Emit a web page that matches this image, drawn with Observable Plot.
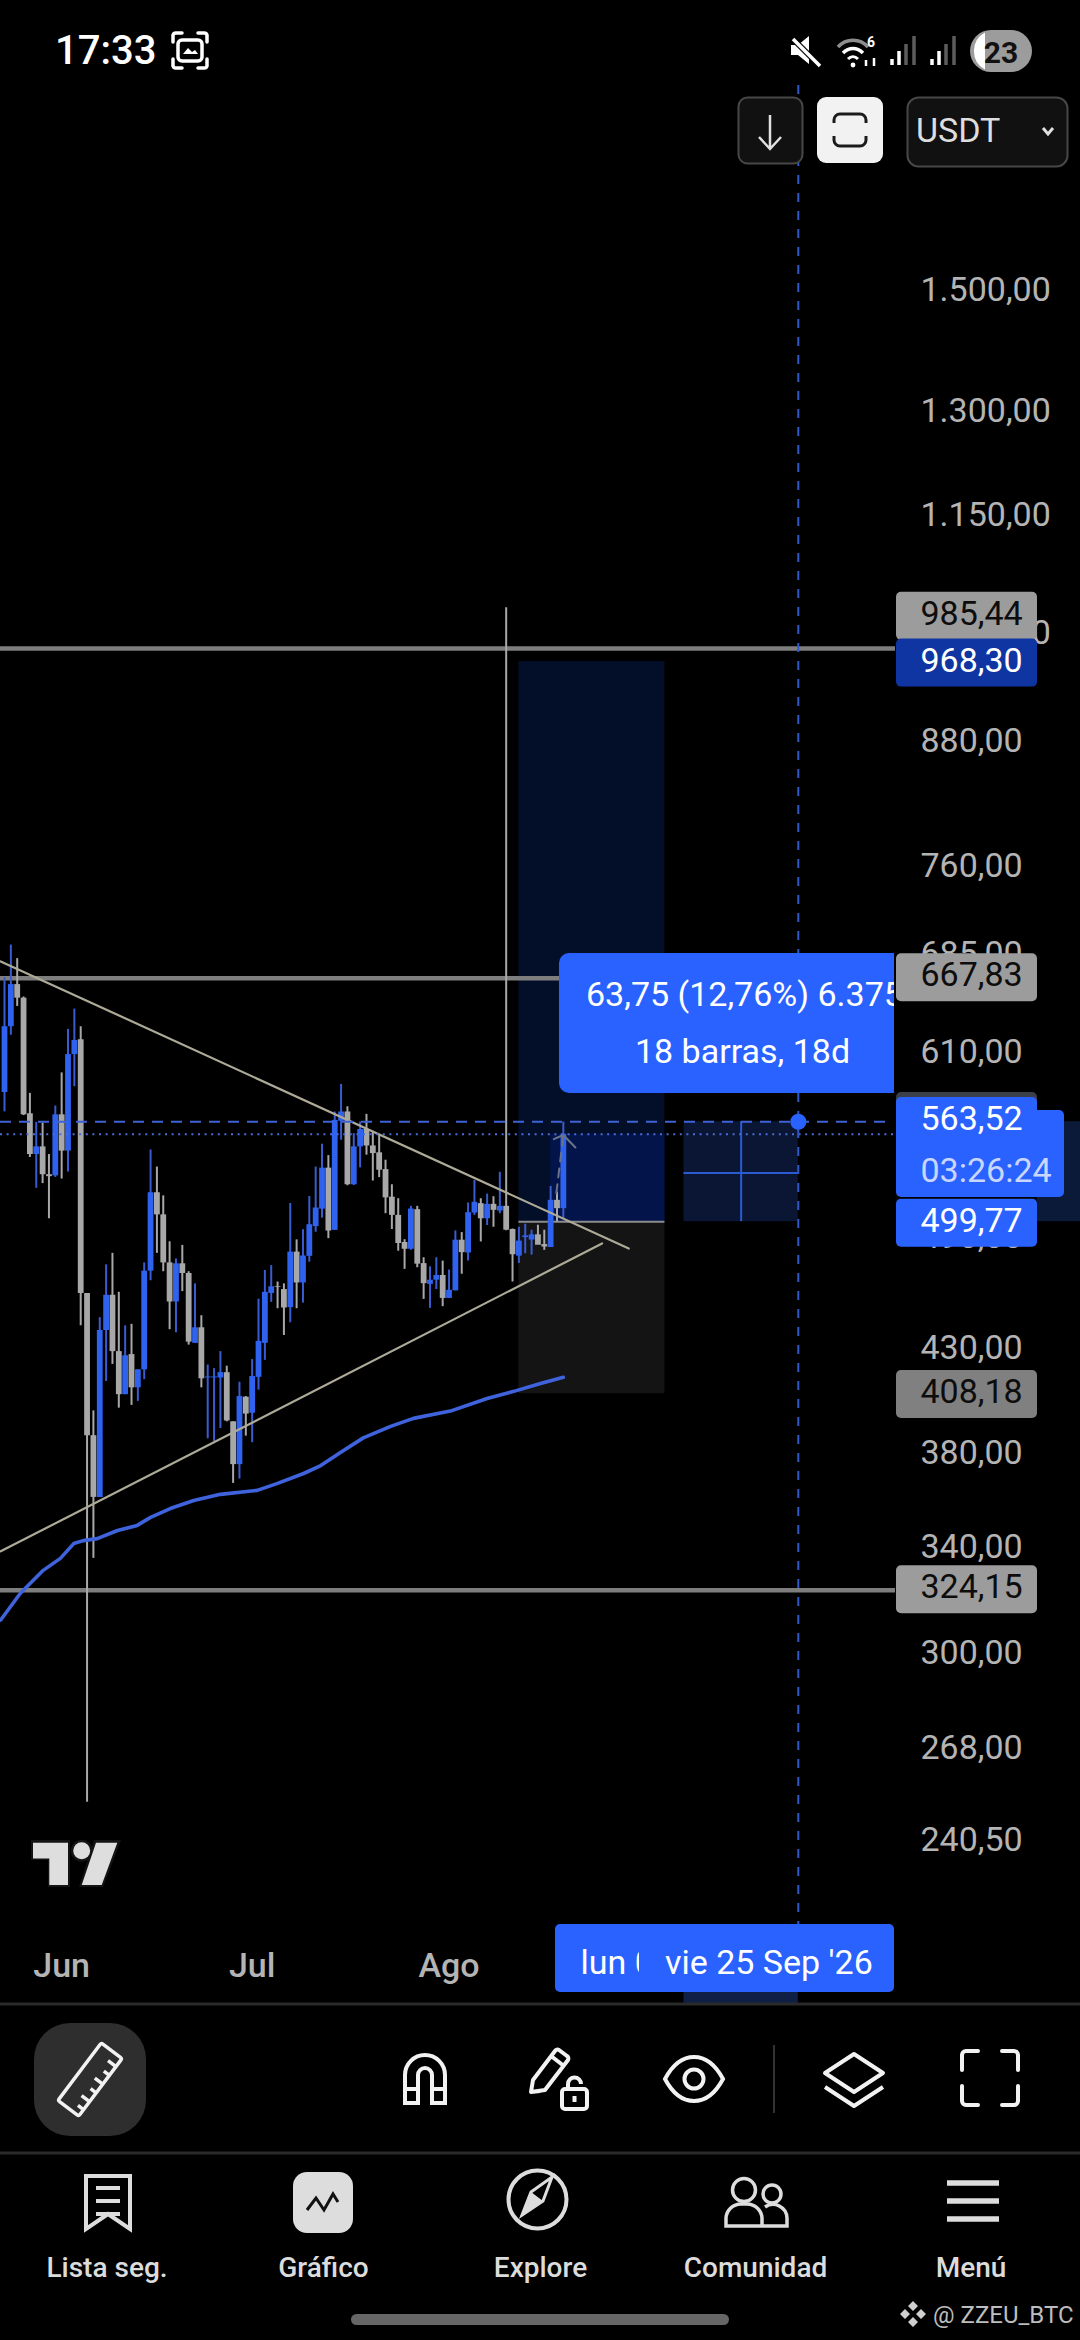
<!DOCTYPE html>
<html lang="es">
<head>
<meta charset="utf-8">
<title>Gráfico USDT</title>
<script src="https://cdn.jsdelivr.net/npm/d3@7"></script>
<script src="https://cdn.jsdelivr.net/npm/@observablehq/plot@0.6"></script>
<style>
html,body{margin:0;padding:0;background:#000;width:1080px;height:2340px;overflow:hidden}
#chart,#chrome{position:absolute;left:0;top:0;width:1080px;height:2340px}
#chart svg{display:block;max-width:none}
#chrome{pointer-events:none}
text{font-family:Roboto,sans-serif}
</style>
</head>
<body>
<div id="chart"></div>
<svg id="chrome" width="1080" height="2340" viewBox="0 0 1080 2340" fill="none">
  <!-- status bar -->
  <text x="55" y="64" fill="#fff" font-size="40" font-weight="500">17:33</text>
  <g stroke="#fff" stroke-width="3.5" stroke-linecap="round">
    <path d="M173 42v-7a3 3 0 0 1 3-2h6M198 33h6a3 3 0 0 1 3 2v7M207 59v7a3 3 0 0 1-3 2h-6M182 68h-6a3 3 0 0 1-3-2v-7"/>
  </g>
  <rect x="178" y="40" width="24" height="21" rx="4" stroke="#fff" stroke-width="3.5"/><path d="M183 54l5-6 4 4 3-2 3 4z" fill="#fff"/>
  <path d="M791 45h7l11-9v28l-11-9h-7z" fill="#fff"/><path d="M791 37l29 29" stroke="#000" stroke-width="6"/><path d="M793 39l27 27" stroke="#fff" stroke-width="3.5"/>
  <path d="M838 47c8-9 22-9 30 0" stroke="#8d8d8d" stroke-width="3.5"/><path d="M843 53c6-6 14-6 20 0" stroke="#fff" stroke-width="3.5"/><path d="M848 59c3-3 7-3 10 0" stroke="#fff" stroke-width="3"/><circle cx="853" cy="65" r="2.4" fill="#fff"/>
  <path d="M866 60v6M874 66v-8" stroke="#fff" stroke-width="2.5"/>
  <text x="867" y="47" fill="#fff" font-size="14" font-weight="700">6</text>
  <g stroke-width="3.5"><path d="M892 65v-6M899 65v-14" stroke="#fff"/><path d="M906 65v-21M914 65v-29" stroke="#5c5c5c"/><path d="M932 65v-6M939 65v-14" stroke="#fff"/><path d="M946 65v-21M954 65v-29" stroke="#5c5c5c"/></g>
  <rect x="970" y="30" width="62" height="42" rx="21" fill="#9c9c9c"/><path d="M985 32.500a21 21 0 0 0 0 37z" fill="#fff"/>
  <text x="1001" y="63" fill="#111" font-size="30" font-weight="700" text-anchor="middle">23</text>
  <!-- top buttons -->
  <rect x="738.500" y="97.500" width="64" height="66" rx="9" fill="#111" stroke="#474747" stroke-width="2"/>
  <path d="M770 115v33M759 137l11 12 11-12" stroke="#e0e0e0" stroke-width="2.500"/>
  <rect x="817" y="97" width="66" height="66" rx="9" fill="#f2f2f2"/>
  <path d="M834 123v-3a6 6 0 0 1 6-6h20a6 6 0 0 1 6 6v3M834 136v4a6 6 0 0 0 6 6h20a6 6 0 0 0 6-6v-4" stroke="#1c1c1c" stroke-width="3"/>
  <rect x="907.500" y="97.500" width="160" height="69" rx="11" fill="#111" stroke="#474747" stroke-width="2"/>
  <text x="916" y="142" fill="#dedede" font-size="34">USDT</text>
  <path d="M1043 128l5 6 5-6" stroke="#e0e0e0" stroke-width="3"/>
  <!-- logo -->
  <path d="M31 1840h39v47h-22v-27h-17zM94 1840h27l-18 47h-24z" fill="#141414"/><circle cx="81.700" cy="1850.700" r="11" fill="#141414"/>
  <path d="M33 1842.700h35v42.300h-18.700v-26.500h-16.300zM96 1842.700h21.300l-15.600 42.300h-20z" fill="#dedede"/><circle cx="81.700" cy="1850.700" r="8.500" fill="#dedede"/>
  <!-- separators -->
  <path d="M0 2004h1080M0 2153h1080" stroke="#2a2a2a" stroke-width="3"/>
  <!-- toolbar -->
  <rect x="34" y="2023" width="112" height="113" rx="36" fill="#2e2e2e"/>
  <g transform="translate(90 2079.500) rotate(37)" stroke="#f2f2f2" stroke-width="3.500">
    <rect x="-13" y="-36" width="26" height="72" rx="2"/>
    <path d="M13 -26h-10M13 -15h-7M13 -4h-10M13 7h-7M13 18h-10M13 28h-7"/>
  </g>
  <path d="M405 2103v-28a20 20 0 0 1 40 0v28h-13v-28a7 7 0 0 0-14 0v28zM405 2089h13M432 2089h13" stroke="#f2f2f2" stroke-width="4"/>
  <path d="M531 2092l2-12 22-29a3 3 0 0 1 4-1l8 6a3 3 0 0 1 1 4l-23 30zM551 2056l13 10M531 2092l9 -1" stroke="#f2f2f2" stroke-width="4" stroke-linejoin="round"/>
  <rect x="562" y="2089" width="25" height="20" rx="3" stroke="#f2f2f2" stroke-width="4"/><path d="M568 2089v-5a6.500 6.500 0 0 1 13 0" stroke="#f2f2f2" stroke-width="4"/><path d="M574.500 2096v6" stroke="#f2f2f2" stroke-width="4"/>
  <path d="M665 2079c8-15 18-22 29-22s21 7 29 22c-8 15-18 22-29 22s-21-7-29-22z" stroke="#f2f2f2" stroke-width="4"/><circle cx="694" cy="2079" r="9.500" stroke="#f2f2f2" stroke-width="4"/>
  <path d="M774 2045v68" stroke="#333" stroke-width="2"/>
  <path d="M854 2054l29 19-29 19-29-19z" stroke="#f2f2f2" stroke-width="4" stroke-linejoin="round"/><path d="M825 2087l29 19 29-19" stroke="#f2f2f2" stroke-width="4" stroke-linejoin="round"/>
  <path d="M962 2070v-15a4 4 0 0 1 4-4h12M1002 2051h12a4 4 0 0 1 4 4v15M1018 2086v15a4 4 0 0 1-4 4h-12M978 2105h-12a4 4 0 0 1-4-4v-15" stroke="#f2f2f2" stroke-width="4" stroke-linecap="round"/>
  <!-- nav -->
  <path d="M86 2176h44v53l-22-15-22 15z" stroke="#ddd" stroke-width="4"/><path d="M96 2188h24M96 2201h24M96 2214h24" stroke="#ddd" stroke-width="4"/>
  <rect x="293" y="2172" width="60" height="61" rx="14" fill="#ddd"/><path d="M307 2210l9-12 8 12 9-16 5 8" stroke="#111" stroke-width="3"/>
  <circle cx="537.500" cy="2199.500" r="29" stroke="#ddd" stroke-width="4"/><path d="M522 2215l9-23 21-15-9 24z" fill="none" stroke="#ddd" stroke-width="3"/><path d="M522 2215l9-23 12 9z" fill="#ddd"/>
  <circle cx="744" cy="2190" r="11.500" stroke="#ddd" stroke-width="3.500"/><circle cx="772" cy="2194" r="9" stroke="#ddd" stroke-width="3.500"/>
  <path d="M726 2226v-8a15 15 0 0 1 15-14h6a15 15 0 0 1 15 14v8zM762 2226h25v-8a14 14 0 0 0-22-11" stroke="#ddd" stroke-width="3.500"/>
  <path d="M947 2183h52M947 2201h52M947 2219h52" stroke="#ddd" stroke-width="5.500"/>
  <g fill="#dcdcdc" font-size="28" font-weight="500" text-anchor="middle">
    <text x="107" y="2277">Lista seg.</text>
    <text x="323.500" y="2277">Gráfico</text>
    <text x="540.500" y="2277">Explore</text>
    <text x="755.500" y="2277">Comunidad</text>
    <text x="971" y="2277">Menú</text>
  </g>
  <rect x="351" y="2314" width="378" height="11" rx="5.500" fill="#666"/>
  <path d="M913 2301l5 5-5 5-5-5zM905 2309l5 5-5 5-5-5zM921 2309l5 5-5 5-5-5zM913 2317l5 5-5 5-5-5z" fill="#cfcfcf"/>
  <text x="933" y="2323" fill="#bdbdbd" font-size="24">@ ZZEU_BTC</text>
</svg>
<script>
// ---- candles, one per day from firstDay ----
const firstDay = "2026-05-23";
const opens  = [580.4,627.3,659.3,648.8,566,539.4,544.3,526.7,526,565.3,541.6,607,617.7,457.8,387,359.8,438.2,456.8,427.4,406.2,425.9,409.5,418.3,470,515.6,502.3,474.6,453.2,474.1,468.7,431.6,439.6,414.3,414.3,414.3,416.9,393.4,374,405,397.4,414.6,431.6,457.8,461.4,459.9,450.2,480.7,463.5,478.3,495.4,505.7,530.8,493.2,561,567.2,520.5,544.3,555.6,544.9,540.5,529.9,512.9,502,486.2,482.3,505.4,474.2,462.7,465,467.6,455.1,459.2,487.5,480.2,503.4,509,500,508.6,504.6,507.4,493.7,478.4,489,487.6,490.6,485,483.3,511,506];
const highs  = [664.7,690.8,679.8,649.7,579.8,560.3,559.8,539.4,571.2,594,625.3,640.5,627.3,457.8,398.5,444.9,473.5,480,458.4,440.6,441.4,418.3,474.6,542.3,531.5,513.7,486.6,476.8,484.5,469.7,463,445.9,420.7,418.9,427.4,420.1,393.4,412.2,405.3,423.4,454.7,470.4,473.1,464,463,509.1,487.7,493.6,513.3,531.5,546,538.7,567.2,586,570.7,552.9,560.5,565.6,554.1,552.3,535.8,520.5,512,487.8,507.4,507.4,477.5,472.4,477.5,475.6,470.6,492.9,491.9,509.4,523.2,512,514.8,513.2,528.2,1029,494,495,496.8,493.3,496.2,493.3,519.5,516,560.5];
const lows   = [567.3,621,642.5,564.8,537.5,518.3,521.2,500,525,524,528.4,584.4,440.6,251,334.8,359.8,412.6,421,399.8,406.2,401.1,403,413.5,464.7,480,469.7,438.6,437,458.8,430.7,431.6,409.5,385.6,384.4,390.3,393.4,365.8,367.7,386.8,383.8,408.4,423,453,449.6,435.6,442.2,449.6,452.6,475,492.1,500.4,488.4,493.2,548.6,519.9,520,531,539,522.8,524.9,503,493.7,481.2,471,481.7,471.9,454.6,449.8,459.9,450.7,455.1,459.2,468.3,475.7,502,486.5,496,495,503,493,464,474.3,479.8,479,486.3,481.7,483.9,498.1,500];
const closes = [627.3,659.3,648.8,565.3,539.4,544.3,526.7,525.5,565.3,541.6,607,617.2,457.8,387,359.8,438.2,456.8,427.4,406.2,425.3,409.5,418.3,470,515.6,502.3,474.6,453.2,474.1,468.7,432.2,439.6,413.9,414.8,414.8,416.9,393.8,374,405.3,397,415,432.6,458.4,461.4,461,450,480.7,463.5,478.5,496.5,506.4,530.8,492.8,561.6,567.2,520.5,544.3,555.6,544.9,540,529.5,512.5,502,485.6,482.3,505.8,473.9,463.1,465,467.6,455.1,459.5,487.5,480.4,503.6,509.8,500,508.6,505,507.4,493.3,479.2,487,490,490.6,484.6,483.6,511,506,552.5];

// ---- moving average: day offset from firstDay, price ----
const maDays   = [-0.6,2.5,6.1,8.8,10.9,12.4,14.6,17.8,20.9,23,26.1,29.8,34,39.8,43,47.1,49.8,52.9,56.5,60.8,64.4,70.2,76,80.2,84.4,88];
const maPrices = [311.3,321.3,330.1,334.8,340.7,341.9,342.7,346,348.1,351.4,355.1,358.5,361.1,362.8,365.8,370.1,373.6,379.4,386,391.3,395,398.4,404.4,407.8,411.6,414.6];

// ---- drawings ----
const trendDays    = [[-0.6,98.3],[-0.6,94.1]];
const trendPrices  = [[677.6,482.7],[337.6,485.6]];
const levelLines   = [980.6,664.2,322.4];
const verticalDay  = 125;
const positionDays = [81,104,86];          // left, right, profit fill start
const targetPrice  = 965.6, entryPrice = 498.3, stopPrice = 406.7;
const measureDays  = [107,125,116];        // left, right, cross
const measurePrices= [560.7,498.3,527.7];  // top, bottom, cross
const crosshairPrice = 560.7, lastPrice = 552.5;
const arrowShaftDays = [86.9,88], arrowShaftPrices = [515.3,552];
const arrowHeadDays  = [86.5,88,89.9], arrowHeadPrices = [549.3,552,543.9];

// ---- axes ----
const yTicks = [1500,1300,1150,1000,880,760,685,610,550,490,430,380,340,300,268,240.5];
const xTicks = [new Date("2026-06-01"),new Date("2026-07-01"),new Date("2026-08-01")];
const monthNames = ["Jun","Jul","Ago"];

// ---- price tags ----
const tagLabels = ["985,44","968,30","667,83","408,18","324,15"];
const tagPrices = [985.44,968.30,667.83,408.18,324.15];
const tagShift  = [-32,0,0,0,0];
const tagFill   = ["#9c9c9c","#0f35a3","#9c9c9c","#808080","#9c9c9c"];
const tagText   = ["#0d0d0d","#ffffff","#0d0d0d","#0d0d0d","#0d0d0d"];
const priceLabel = "563,52", priceValue = 563.52;
const entryLabel = "499,77", entryValue = 499.77;
const countdown  = "03:26:24";
const measureText = ["63,75 (12,76%) 6.375","18 barras, 18d"];
const dateLabels = ["lun 07 Sep '26","vie 25 Sep '26"];

const DAY = 864e5, t0 = new Date(firstDay).getTime();
const day = d => new Date(t0 + d*DAY);

const X = Plot.scale({x:{type:"utc",domain:[day(0),day(125)],range:[4,797.8]}});
const Y = Plot.scale({y:{type:"log",domain:[1500,240.5],range:[288,1838]}});
const px = v => X.invert(v), py = v => Y.invert(v);

const BLUE="#2962ff", GREY="#a8a8a8", WICKB="#3a5cd0", LINE="#aeaa98", MA="#3f63dc", FS=34;

const candles = opens.map((o,i)=>({date:day(i),o,h:highs[i],l:lows[i],c:closes[i],up:closes[i]>=o}));
const ma = maDays.map((d,i)=>({date:day(d),p:maPrices[i]}));
const seg = (ds,ps,id)=>ds.map((d,i)=>({date:day(d),p:ps[i],id}));
const trends = trendDays.flatMap((ds,i)=>seg(ds,trendPrices[i],i));

const box = (x1,x2,y1,y2,fill)=>({x1,x2,y1,y2,fill});
const lowerBoxes = [
  box(day(positionDays[0]),day(positionDays[1]),targetPrice,entryPrice,"#030e28"),
  box(day(positionDays[2]),day(positionDays[1]),lastPrice,entryPrice,"#03144a"),
  box(day(positionDays[0]),day(positionDays[1]),entryPrice,stopPrice,"#141414"),
  box(day(measureDays[0]),day(measureDays[1]),measurePrices[0],measurePrices[1],"#0a1633"),
  box(px(1037),px(1080),crosshairPrice,measurePrices[1],"#0c1a3a"),
  box(day(measureDays[0]),day(measureDays[1]),py(1992),py(2003),"#0f1f45")
];
const tagBox = (p,shift,left,right,fill,top=-20,bottom=28)=>
  box(px(left),px(right),py(Y.apply(p)+shift+top),py(Y.apply(p)+shift+bottom),fill);
const tagBoxes = [
  ...tagPrices.map((p,i)=>tagBox(p,tagShift[i],896,1037,tagFill[i])),
  tagBox(priceValue,0,896,1037,"#3a3f4a",-25,35),
  tagBox(priceValue,0,896,1064,BLUE,-7,80),
  tagBox(priceValue,0,896,1037,BLUE),
  tagBox(entryValue,0,896,1037,BLUE)
];
const tagTexts = [
  ...tagLabels.map((t,i)=>({t,y:py(Y.apply(tagPrices[i])+tagShift[i]),fill:tagText[i]})),
  {t:priceLabel,y:priceValue,fill:"#fff"},
  {t:countdown,y:py(Y.apply(priceValue)+52),fill:"#c9d6ff"},
  {t:entryLabel,y:entryValue,fill:"#fff"}
];

const plot = Plot.plot({
  width:1080,height:2340,
  marginTop:0,marginLeft:0,marginRight:160,marginBottom:388,
  style:{background:"#000",color:"#b4b4b4",fontFamily:"Roboto, sans-serif",fontSize:"34px"},
  x:{type:"utc",domain:[day(0),day(125)],range:[4,797.8],axis:null},
  y:{type:"log",domain:[1500,240.5],range:[288,1838],axis:null},
  color:{type:"identity"},
  marks:[
    Plot.axisY({anchor:"right",ticks:yTicks,tickSize:0,tickPadding:0,label:null,fontSize:FS,dy:1.5,
      tickFormat:d3.formatLocale({decimal:",",thousands:".",grouping:[3],currency:["",""]}).format(",.2f")}),
    Plot.axisX({anchor:"bottom",ticks:xTicks,tickSize:0,tickPadding:0,label:null,fontSize:FS,fontWeight:500,
      tickFormat:d=>monthNames[d.getUTCMonth()-5]}),
    Plot.rect(lowerBoxes,{x1:"x1",x2:"x2",y1:"y1",y2:"y2",fill:d=>d.fill}),
    Plot.ruleY([entryPrice],{x1:day(positionDays[0]),x2:day(positionDays[1]),stroke:"#8c8c8c",strokeWidth:2}),
    Plot.ruleY(levelLines,{x1:px(0),x2:px(895),stroke:"#7e7e7e",strokeWidth:4.5}),
    Plot.ruleX([day(measureDays[2])],{y1:measurePrices[0],y2:measurePrices[1],stroke:"#2a5bd0",strokeWidth:2}),
    Plot.ruleY([measurePrices[2]],{x1:day(measureDays[0]),x2:day(measureDays[1]),stroke:"#2a5bd0",strokeWidth:2}),
    Plot.ruleX(candles,{x:"date",y1:"l",y2:"h",stroke:d=>d.up?WICKB:GREY,strokeWidth:2}),
    Plot.ruleX(candles,{x:"date",y1:"o",y2:"c",stroke:d=>d.up?"#2f62ee":GREY,strokeWidth:5.8}),
    Plot.line(trends,{x:"date",y:"p",z:"id",stroke:LINE,strokeWidth:2.2}),
    Plot.line(ma,{x:"date",y:"p",stroke:MA,strokeWidth:3.6}),
    Plot.line(seg(arrowShaftDays,arrowShaftPrices,0),{x:"date",y:"p",stroke:"#6b7486",strokeWidth:2,strokeDasharray:"9 7"}),
    Plot.line(seg(arrowHeadDays,arrowHeadPrices,1),{x:"date",y:"p",stroke:"#6b7486",strokeWidth:2}),
    Plot.ruleY([crosshairPrice],{x1:px(0),x2:px(893),stroke:"#3f63d6",strokeWidth:2,strokeDasharray:"11 8"}),
    Plot.ruleY([lastPrice],{x1:px(0),x2:px(893),stroke:"#4a6bd8",strokeWidth:2,strokeDasharray:"2 4.6"}),
    Plot.ruleX([day(verticalDay)],{y1:py(85),y2:py(1924),stroke:"#3258c8",strokeWidth:2,strokeDasharray:"9 9"}),
    Plot.dot([crosshairPrice],{x:day(verticalDay),y:d=>d,r:8,fill:BLUE}),
    // measure popover
    Plot.rect([0],{x1:px(559),x2:px(906),y1:py(953),y2:py(1093),fill:BLUE,rx:10}),
    Plot.text([measureText[0]],{x:px(585.5),y:py(995),text:d=>d,textAnchor:"start",fill:"#fff",fontSize:FS}),
    Plot.text([measureText[1]],{x:px(742),y:py(1052),text:d=>d,textAnchor:"middle",fill:"#fff",fontSize:FS}),
    // price tags
    Plot.rect([0],{x1:px(894),x2:px(906),y1:py(953),y2:py(1093),fill:"#000"}),
    Plot.rect(tagBoxes,{x1:"x1",x2:"x2",y1:"y1",y2:"y2",fill:d=>d.fill,rx:5}),
    Plot.text(tagTexts,{x:px(920),y:"y",text:"t",textAnchor:"start",fill:d=>d.fill,fontSize:FS,dy:1.5}),
    // date tags
    Plot.rect([0],{x1:px(555),x2:px(700),y1:py(1924),y2:py(1992),fill:BLUE,rx:5}),
    Plot.text([dateLabels[0]],{x:px(580),y:py(1963),text:d=>d,textAnchor:"start",fill:"#fff",fontSize:FS}),
    Plot.rect([0],{x1:px(639),x2:px(894),y1:py(1924),y2:py(1992),fill:BLUE,rx:5}),
    Plot.text([dateLabels[1]],{x:px(664.5),y:py(1963),text:d=>d,textAnchor:"start",fill:"#fff",fontSize:FS})
  ]
});
document.getElementById("chart").appendChild(plot);
</script>
</body>
</html>
